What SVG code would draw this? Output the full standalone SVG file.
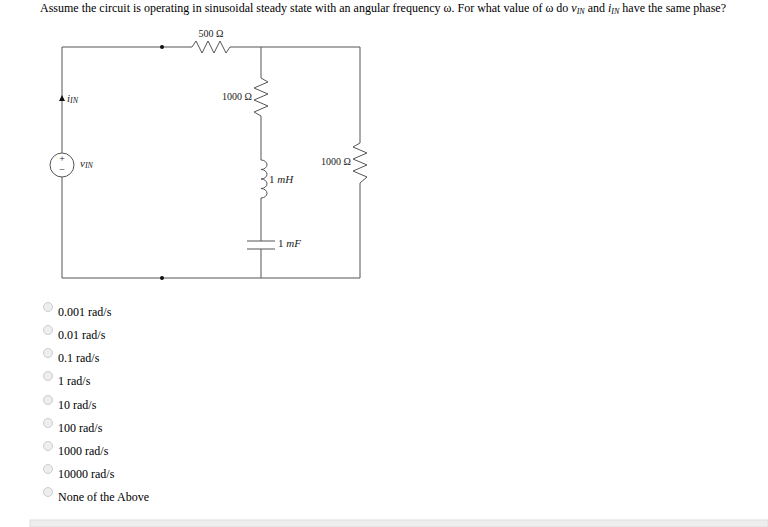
<svg xmlns="http://www.w3.org/2000/svg" width="768" height="527" viewBox="0 0 768 527">
<style>
.w{fill:none;stroke:#555;stroke-width:1}
.t{font-family:"Liberation Serif",serif;font-size:12px;fill:#000}
.s{font-family:"Liberation Serif","DejaVu Serif",serif;font-size:10px;fill:#222}
.i{font-family:"Liberation Serif",serif;font-size:11px;font-style:italic;fill:#222}
.r{fill:#eee;stroke:#ccc;stroke-width:1}
</style>
<rect width="768" height="527" fill="#fff"/>
<text class="t" x="40" y="12">Assume the circuit is operating in sinusoidal steady state with an angular frequency ω. For what value of ω do <tspan font-style="italic">v<tspan font-size="8" dy="2">IN</tspan></tspan><tspan dy="-2"> and </tspan><tspan font-style="italic">i<tspan font-size="8" dy="2">IN</tspan></tspan><tspan dy="-2"> have the same phase?</tspan></text>
<g id="connectors">
<path class="w" d="M62 153V47H192M230 47H360V143M360 183V278H62V177M261 47V78M261 116V160M261 198V241M261 249V278"/>
</g>
<g id="dots"><circle cx="162" cy="47" r="2" fill="#111"/><circle cx="162" cy="278" r="2" fill="#111"/></g>
<g id="r500"><path class="w" d="M192 47L196 41L202 53L208 41L214 53L220 41L226 53L230 47"/><text class="s" x="211" y="37" text-anchor="middle">500 Ω</text></g>
<g id="r1"><path class="w" d="M261 78L268 82L254 88L268 94L254 100L268 106L254 112L261 116"/><text class="s" x="252" y="100" text-anchor="end">1000 Ω</text></g>
<g id="l1"><path class="w" d="M261 160a6 4.75 0 0 1 0 9.5a6 4.75 0 0 1 0 9.5a6 4.75 0 0 1 0 9.5a6 4.75 0 0 1 0 9.5"/><text class="i" x="269" y="183"><tspan font-style="normal">1 </tspan>mH</text></g>
<g id="c1"><path class="w" d="M247 241H275M247 249H275"/><text class="i" x="278" y="247"><tspan font-style="normal">1 </tspan>mF</text></g>
<g id="r2"><path class="w" d="M360 143L353 147L367 153L353 159L367 165L353 171L367 177L360 183"/><text class="s" x="351" y="165" text-anchor="end">1000 Ω</text></g>
<g id="src"><circle class="w" cx="62" cy="165" r="12"/><text class="s" x="62" y="162" text-anchor="middle">+</text><text class="s" x="62" y="173" text-anchor="middle">−</text><text class="i" x="80" y="167">v<tspan font-size="8" dy="1">IN</tspan></text></g>
<g id="iin"><path d="M59 101L62 95L65 101Z" fill="#111"/><text class="i" x="67" y="102">i<tspan font-size="8" dy="1">IN</tspan></text></g>
<g id="options">
<circle class="r" cx="48" cy="307" r="4.5"/><text class="t" x="58" y="316">0.001 rad/s</text>
<circle class="r" cx="48" cy="330" r="4.5"/><text class="t" x="58" y="339">0.01 rad/s</text>
<circle class="r" cx="48" cy="353" r="4.5"/><text class="t" x="58" y="362">0.1 rad/s</text>
<circle class="r" cx="48" cy="376" r="4.5"/><text class="t" x="58" y="385">1 rad/s</text>
<circle class="r" cx="48" cy="400" r="4.5"/><text class="t" x="58" y="409">10 rad/s</text>
<circle class="r" cx="48" cy="423" r="4.5"/><text class="t" x="58" y="432">100 rad/s</text>
<circle class="r" cx="48" cy="446" r="4.5"/><text class="t" x="58" y="455">1000 rad/s</text>
<circle class="r" cx="48" cy="469" r="4.5"/><text class="t" x="58" y="478">10000 rad/s</text>
<circle class="r" cx="48" cy="492" r="4.5"/><text class="t" x="58" y="501">None of the Above</text>
</g>
<rect x="30" y="520" width="738" height="7" fill="#eee" stroke="#ddd"/>
</svg>
